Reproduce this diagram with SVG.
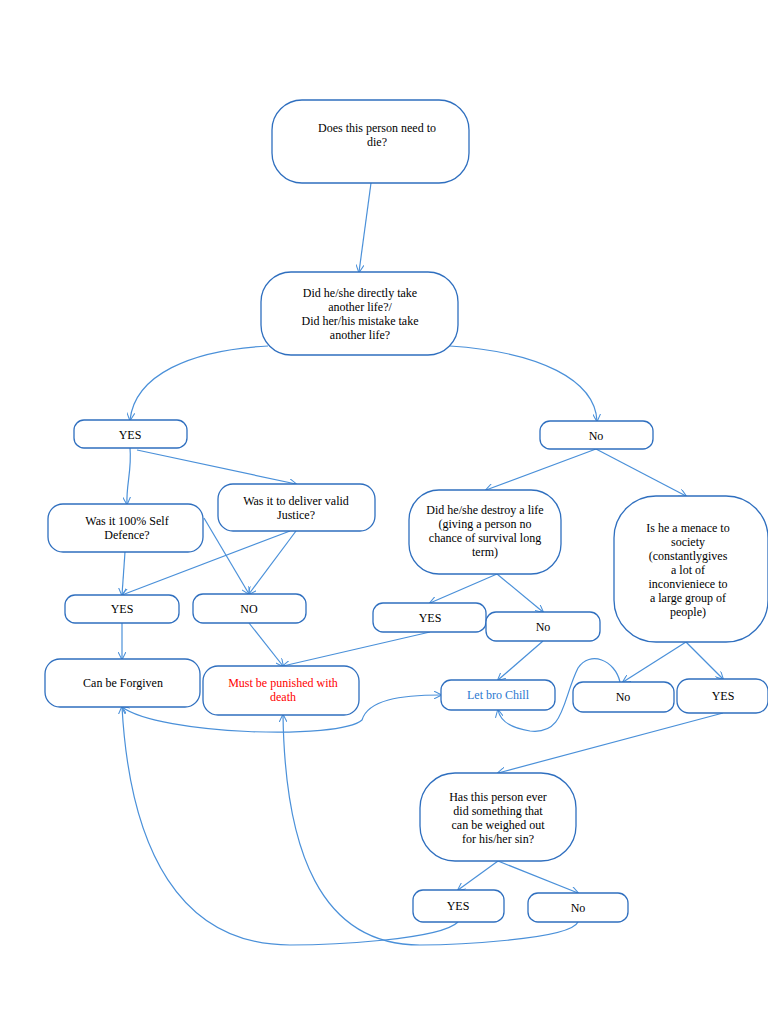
<svg xmlns="http://www.w3.org/2000/svg" width="768" height="1024" viewBox="0 0 768 1024">
<style>
.n{fill:#fff;stroke:#2f6fbf;stroke-width:1.3}
.t{font-family:"Liberation Serif",serif;font-size:12px;fill:#000;text-anchor:middle}
.c{fill:none;stroke:#4a90d9;stroke-width:1.2;marker-end:url(#a)}
</style>
<defs><marker id="a" viewBox="0 0 10 10" refX="9" refY="5" markerWidth="8" markerHeight="8" orient="auto-start-reverse" markerUnits="userSpaceOnUse"><path d="M0,0L10,5L0,10" fill="none" stroke="#4a90d9" stroke-width="1.3"/></marker></defs>
<rect width="768" height="1024" fill="#fff"/>
<g id="connectors">
<path class="c" d="M371,183L359,272"/>
<path class="c" d="M268,346C190,350 135,375 130,420"/>
<path class="c" d="M450,346C540,352 595,380 597,421"/>
<path class="c" d="M130,448C132,470 126,485 127,504"/>
<path class="c" d="M137,450L296,484"/>
<path class="c" d="M596,449L486,490"/>
<path class="c" d="M596,449L686,496"/>
<path class="c" d="M125,552L122,595"/>
<path class="c" d="M204,518L249,594"/>
<path class="c" d="M296,531L249,594"/>
<path class="c" d="M290,531L122,595"/>
<path class="c" d="M122,623L122,659"/>
<path class="c" d="M249,623L283,666"/>
<path class="c" d="M430,632L283,666"/>
<path class="c" d="M497,574L430,603"/>
<path class="c" d="M497,574L543,612"/>
<path class="c" d="M543,641L498,680"/>
<path class="c" d="M686,642L623,682"/>
<path class="c" d="M686,642L723,679"/>
<path class="c" d="M620,682C615,660 590,650 578,668C562,700 565,735 530,731C510,728 500,720 498,710"/>
<path class="c" style="marker-start:url(#a)" d="M122,707C160,735 340,740 362,720C368,700 400,695 441,695"/>
<path class="c" d="M723,713L498,773"/>
<path class="c" d="M498,861L458,890"/>
<path class="c" d="M498,861L578,893"/>
<path class="c" d="M458,922C440,940 330,945 290,945C180,945 130,850 122,707"/>
<path class="c" d="M578,922C570,940 450,945 420,945C320,945 285,850 283,715"/>
</g>
<g id="n1"><rect class="n" x="272" y="100" width="197" height="83" rx="30"/><text class="t" x="377" y="132">Does this person need to</text><text class="t" x="377" y="146">die?</text></g>
<g id="n2"><rect class="n" x="261" y="272" width="197" height="83" rx="30"/><text class="t" x="360" y="297">Did he/she directly take</text><text class="t" x="360" y="311">another life?/</text><text class="t" x="360" y="325">Did her/his mistake take</text><text class="t" x="360" y="339">another life?</text></g>
<g id="n3"><rect class="n" x="74" y="420" width="113" height="28" rx="10"/><text class="t" x="130" y="439">YES</text></g>
<g id="n4"><rect class="n" x="540" y="421" width="113" height="28" rx="10"/><text class="t" x="596" y="440">No</text></g>
<g id="n5"><rect class="n" x="48" y="504" width="155" height="48" rx="15"/><text class="t" x="127" y="525">Was it 100% Self</text><text class="t" x="127" y="539">Defence?</text></g>
<g id="n6"><rect class="n" x="218" y="484" width="157" height="47" rx="15"/><text class="t" x="296" y="505">Was it to deliver valid</text><text class="t" x="296" y="519">Justice?</text></g>
<g id="n7"><rect class="n" x="409" y="490" width="152" height="84" rx="30"/><text class="t" x="485" y="514">Did he/she destroy a life</text><text class="t" x="485" y="528">(giving a  person no</text><text class="t" x="485" y="542">chance of survival long</text><text class="t" x="485" y="556">term)</text></g>
<g id="n8"><rect class="n" x="614" y="496" width="154" height="146" rx="42"/><text class="t" x="688" y="532">Is he a menace to</text><text class="t" x="688" y="546">society</text><text class="t" x="688" y="560">(constantlygives</text><text class="t" x="688" y="574">a lot of</text><text class="t" x="688" y="588">inconvieniece to</text><text class="t" x="688" y="602">a large group of</text><text class="t" x="688" y="616">people)</text></g>
<g id="n9"><rect class="n" x="65" y="595" width="114" height="28" rx="10"/><text class="t" x="122" y="613">YES</text></g>
<g id="n10"><rect class="n" x="193" y="594" width="113" height="29" rx="10"/><text class="t" x="249" y="613">NO</text></g>
<g id="n11"><rect class="n" x="373" y="603" width="113" height="29" rx="10"/><text class="t" x="430" y="622">YES</text></g>
<g id="n12"><rect class="n" x="486" y="612" width="114" height="29" rx="10"/><text class="t" x="543" y="631">No</text></g>
<g id="n13"><rect class="n" x="45" y="659" width="155" height="48" rx="15"/><text class="t" x="123" y="687">Can be Forgiven</text></g>
<g id="n14"><rect class="n" x="203" y="666" width="156" height="49" rx="15"/><text class="t" x="283" y="687" style="fill:#ff0000">Must be punished with</text><text class="t" x="283" y="701" style="fill:#ff0000">death</text></g>
<g id="n15"><rect class="n" x="441" y="680" width="114" height="30" rx="10"/><text class="t" x="498" y="699" style="fill:#2a78d0">Let bro Chill</text></g>
<g id="n16"><rect class="n" x="573" y="682" width="101" height="30" rx="10"/><text class="t" x="623" y="701">No</text></g>
<g id="n17"><rect class="n" x="677" y="679" width="91" height="34" rx="12"/><text class="t" x="723" y="700">YES</text></g>
<g id="n18"><rect class="n" x="420" y="773" width="156" height="88" rx="35"/><text class="t" x="498" y="801">Has this person ever</text><text class="t" x="498" y="815">did something that</text><text class="t" x="498" y="829">can be weighed out</text><text class="t" x="498" y="843">for his/her sin?</text></g>
<g id="n19"><rect class="n" x="413" y="890" width="91" height="32" rx="10"/><text class="t" x="458" y="910">YES</text></g>
<g id="n20"><rect class="n" x="528" y="893" width="100" height="29" rx="10"/><text class="t" x="578" y="912">No</text></g>
</svg>
